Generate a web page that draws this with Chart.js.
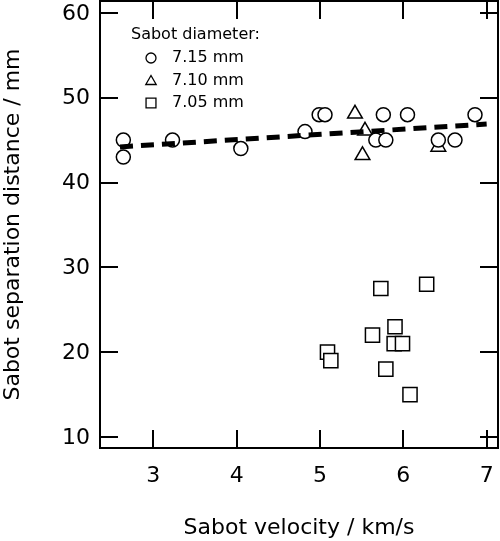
<!DOCTYPE html>
<html><head><meta charset="utf-8">
<script src="https://cdn.jsdelivr.net/npm/chart.js@4/dist/chart.umd.min.js"></script>
<style>html,body{margin:0;padding:0;background:#fff}#wrap{width:500px;height:541px}</style>
</head><body><div id="wrap"><canvas id="c" width="500" height="541"></canvas></div>
<script>
// Data
const circ715X = [2.64, 2.64, 3.23, 4.05, 4.82, 4.99, 5.06, 5.67, 5.76, 5.79, 6.05, 6.42, 6.62, 6.86];
const circ715Y = [45, 43, 45, 44, 46, 48, 48, 45, 48, 45, 48, 45, 45, 48];
const tri710X = [5.42, 5.54, 5.51, 6.42];
const tri710Y = [48.1, 46.1, 43.2, 44.2];
const sq705X = [5.73, 6.28, 5.90, 5.63, 5.89, 5.99, 5.09, 5.13, 5.79, 6.08];
const sq705Y = [27.5, 28.0, 23.0, 22.0, 21.0, 21.0, 20.0, 19.0, 18.0, 15.0];
const fitX = [2.6, 7.0];
const fitY = [44.2, 46.9];
const xTicks = [3, 4, 5, 6, 7];
const yTicks = [10, 20, 30, 40, 50, 60];
const seriesLabels = ['7.15 mm', '7.10 mm', '7.05 mm'];
const legendTitle = 'Sabot diameter:';

const pts = (xs, ys) => xs.map((x, i) => ({x, y: ys[i]}));
const FONT = 'DejaVu Sans';

const framePlugin = {
  id: 'frame',
  afterDatasetsDraw(chart) {
    const {ctx, chartArea: a, scales} = chart;
    ctx.save();
    ctx.strokeStyle = '#000';
    ctx.lineWidth = 2;
    ctx.strokeRect(a.left, a.top, a.right - a.left, a.bottom - a.top);
    const L = 18;
    ctx.beginPath();
    scales.x.ticks.forEach(t => {
      const px = Math.round(scales.x.getPixelForValue(t.value));
      ctx.moveTo(px, a.bottom); ctx.lineTo(px, a.bottom - L);
      ctx.moveTo(px, a.top); ctx.lineTo(px, a.top + L);
    });
    scales.y.ticks.forEach(t => {
      const py = Math.round(scales.y.getPixelForValue(t.value));
      ctx.moveTo(a.left, py); ctx.lineTo(a.left + L, py);
      ctx.moveTo(a.right, py); ctx.lineTo(a.right - L, py);
    });
    ctx.stroke();
    // tick labels
    ctx.fillStyle = '#000';
    ctx.font = '22px "' + FONT + '"';
    ctx.textBaseline = 'middle';
    ctx.textAlign = 'center';
    scales.x.ticks.forEach(t => {
      ctx.fillText(String(t.value), scales.x.getPixelForValue(t.value), a.bottom + 28);
    });
    ctx.textAlign = 'right';
    scales.y.ticks.forEach(t => {
      ctx.fillText(String(t.value), a.left - 10, scales.y.getPixelForValue(t.value) + 1);
    });
    // legend
    ctx.font = '16px "' + FONT + '"';
    ctx.textAlign = 'left';
    ctx.fillText(legendTitle, a.left + 31, 35);
    const styles = [['circle', 5], ['triangle', 6], ['rect', 7]];
    const rows = [58, 80.5, 103];
    styles.forEach((s, i) => {
      ctx.lineWidth = 1.3;
      ctx.strokeStyle = '#000';
      ctx.fillStyle = '#fff';
      Chart.helpers.drawPoint(ctx, {pointStyle: s[0], radius: s[1], borderWidth: 1.3}, a.left + 51, rows[i] + (s[0]==='triangle'?1:0));
      ctx.fillStyle = '#000';
      ctx.fillText(seriesLabels[i], a.left + 72, rows[i]);
    });
    ctx.restore();
  }
};

const scatterDs = (label, data, style, r) => ({
  type: 'scatter', label, data, pointStyle: style, pointRadius: r,
  pointBorderWidth: 1.5, pointBorderColor: '#000', pointBackgroundColor: '#fff',
  borderColor: '#000', backgroundColor: '#fff', order: 2, showLine: false
});

new Chart(document.getElementById('c'), {
  type: 'scatter',
  data: {
    datasets: [
      {type: 'line', label: 'fit', data: pts(fitX, fitY), borderColor: '#000',
       borderWidth: 5, borderDash: [13, 8], pointRadius: 0, fill: false, order: 0},
      scatterDs(seriesLabels[0], pts(circ715X, circ715Y), 'circle', 7),
      scatterDs(seriesLabels[1], pts(tri710X, tri710Y), 'triangle', 8.5),
      scatterDs(seriesLabels[2], pts(sq705X, sq705Y), 'rect', 10)
    ]
  },
  options: {
    responsive: false, animation: false, devicePixelRatio: 1,
    layout: {autoPadding: false, padding: {top: 1, right: 2, left: 0, bottom: 0}},
    plugins: {legend: {display: false}, tooltip: {enabled: false}},
    scales: {
      x: {
        type: 'linear', min: 2.36, max: 7.136,
        afterBuildTicks: s => { s.ticks = xTicks.map(v => ({value: v})); },
        afterFit: s => { s.height = 93; },
        grid: {display: false, drawTicks: false},
        border: {display: false},
        ticks: {display: false},
        title: {display: true, text: 'Sabot velocity / km/s', color: '#000', font: {family: FONT, size: 22}, padding: {top: 0, bottom: 0}}
      },
      y: {
        type: 'linear', min: 8.7, max: 61.4,
        afterBuildTicks: s => { s.ticks = yTicks.map(v => ({value: v})); },
        afterFit: s => { s.width = 100; },
        grid: {display: false, drawTicks: false},
        border: {display: false},
        ticks: {display: false},
        title: {display: true, text: 'Sabot separation distance / mm', color: '#000', font: {family: FONT, size: 22}, padding: {top: 0, bottom: 0}}
      }
    }
  },
  plugins: [framePlugin]
});
</script></body></html>
